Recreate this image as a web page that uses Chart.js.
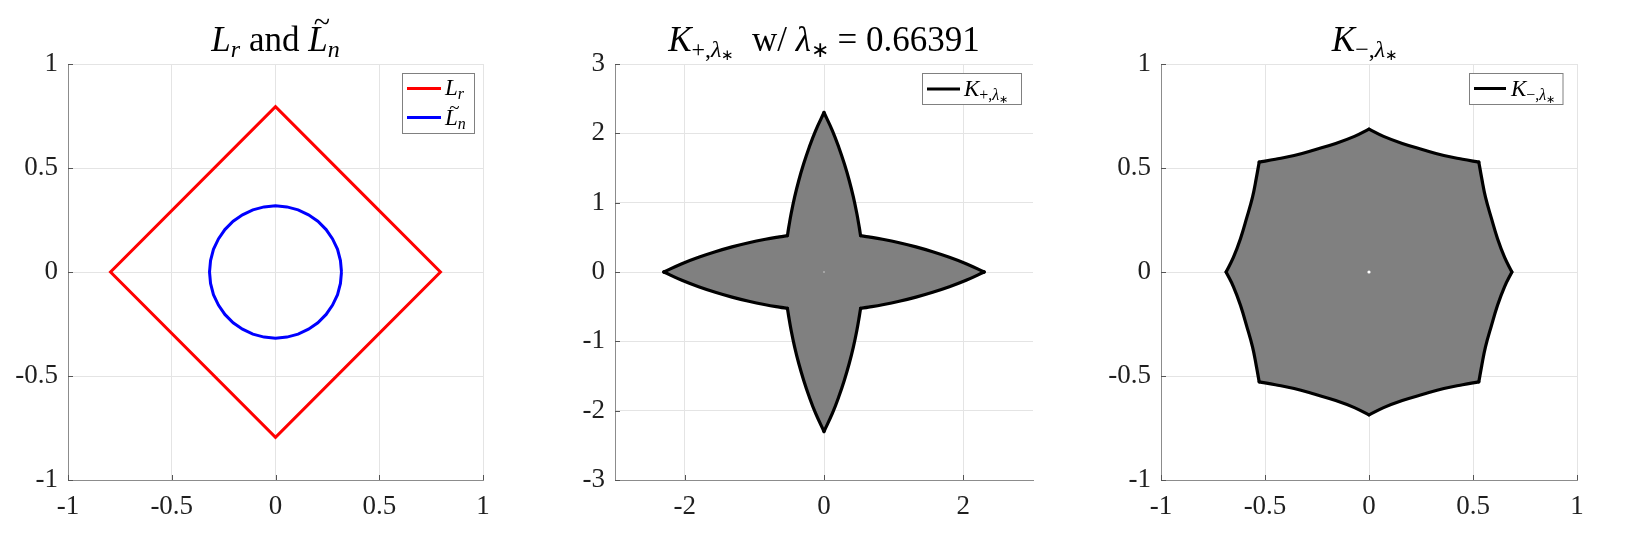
<!DOCTYPE html>
<html><head><meta charset="utf-8">
<script src="https://cdn.jsdelivr.net/npm/chart.js@4"></script>
<style>
html,body{margin:0;padding:0;background:#fff;}
body{width:1626px;height:537px;position:relative;overflow:hidden;}
canvas{position:absolute;top:0;}
</style></head><body>
<canvas id="c1" width="542" height="537" style="left:0px"></canvas>
<canvas id="c2" width="542" height="537" style="left:542px"></canvas>
<canvas id="c3" width="542" height="537" style="left:1084px"></canvas>
<script>
// ---------- data ----------
const diamondX = [0.4, 0, -0.795, 0, 0.795, 0.4];
const diamondY = [0.395, 0.795, 0, -0.795, 0, 0.395];

const circleX = [0.318,0.313,0.299,0.275,0.244,0.204,0.159,0.109,0.055,0,-0.055,-0.109,-0.159,-0.204,-0.244,-0.275,-0.299,-0.313,-0.318,-0.313,-0.299,-0.275,-0.244,-0.204,-0.159,-0.109,-0.055,0,0.055,0.109,0.159,0.204,0.244,0.275,0.299,0.313,0.318];
const circleY = [0,0.055,0.109,0.159,0.204,0.244,0.275,0.299,0.313,0.318,0.313,0.299,0.275,0.244,0.204,0.159,0.109,0.055,0,-0.055,-0.109,-0.159,-0.204,-0.244,-0.275,-0.299,-0.313,-0.318,-0.313,-0.299,-0.275,-0.244,-0.204,-0.159,-0.109,-0.055,0];

const starX = [1.32,1.08,0.84,0.64,0.525,
  0.507,0.472,0.422,0.362,0.292,0.212,0.12,0,
  -0.12,-0.212,-0.292,-0.362,-0.422,-0.472,-0.507,-0.525,
  -0.64,-0.84,-1.08,-1.32,-1.56,-1.80,-2.04,-2.30,
  -2.04,-1.80,-1.56,-1.32,-1.08,-0.84,-0.64,-0.525,
  -0.507,-0.472,-0.422,-0.362,-0.292,-0.212,-0.12,0,
  0.12,0.212,0.292,0.362,0.422,0.472,0.507,0.525,
  0.64,0.84,1.08,1.32,1.56,1.80,2.04,2.30,
  2.04,1.80,1.56,1.32];
const starY = [0.362,0.422,0.472,0.507,0.525,
  0.64,0.84,1.08,1.32,1.56,1.80,2.04,2.30,
  2.04,1.80,1.56,1.32,1.08,0.84,0.64,0.525,
  0.507,0.472,0.422,0.362,0.292,0.212,0.12,0,
  -0.12,-0.212,-0.292,-0.362,-0.422,-0.472,-0.507,-0.525,
  -0.64,-0.84,-1.08,-1.32,-1.56,-1.80,-2.04,-2.30,
  -2.04,-1.80,-1.56,-1.32,-1.08,-0.84,-0.64,-0.525,
  -0.507,-0.472,-0.422,-0.362,-0.292,-0.212,-0.12,0,
  0.12,0.212,0.292,0.362];
const starVertices = [4,12,20,28,36,44,52,60];   // indices of tips / inner corners

const minusX = [0.588,0.56,0.542,0.528, 0.45,0.36,0.26,0.16,0.07,0, -0.07,-0.16,-0.26,-0.36,-0.45,-0.528, -0.542,-0.56,-0.588,-0.618,-0.652,-0.687, -0.652,-0.618,-0.588,-0.56,-0.542,-0.528, -0.45,-0.36,-0.26,-0.16,-0.07,0, 0.07,0.16,0.26,0.36,0.45,0.528, 0.542,0.56,0.588,0.618,0.652,0.687, 0.652,0.618,0.588];
const minusY = [0.26,0.36,0.45,0.528, 0.542,0.56,0.588,0.618,0.652,0.687, 0.652,0.618,0.588,0.56,0.542,0.528, 0.45,0.36,0.26,0.16,0.07,0, -0.07,-0.16,-0.26,-0.36,-0.45,-0.528, -0.542,-0.56,-0.588,-0.618,-0.652,-0.687, -0.652,-0.618,-0.588,-0.56,-0.542,-0.528, -0.45,-0.36,-0.26,-0.16,-0.07,0, 0.07,0.16,0.26];
const minusVertices = [3,9,15,21,27,33,39,45];

const originX = [0];
const originY = [0];

const ticks1X = [-1,-0.5,0,0.5,1];
const ticks1Y = [-1,-0.5,0,0.5,1];
const ticks2X = [-2,0,2];
const ticks2Y = [-3,-2,-1,0,1,2,3];
const ticks3X = [-1,-0.5,0,0.5,1];
const ticks3Y = [-1,-0.5,0,0.5,1];

// ---------- helpers ----------
const LS = '"Liberation Serif", "Times New Roman", serif';
function F(size, italic){ return (italic ? 'italic ' : '') + size + 'px ' + LS; }
function pts(xs, ys){ return xs.map((x,i)=>({x:x, y:ys[i]})); }

// split a closed outline (last point == first point) into its edges between vertices
function edges(xs, ys, vtx){
  const n = xs.length - 1, out = [];
  for (let k = 0; k < vtx.length; k++){
    const a = vtx[k], b = vtx[(k+1) % vtx.length];
    let ex, ey;
    if (b > a){ ex = xs.slice(a, b+1); ey = ys.slice(a, b+1); }
    else { ex = xs.slice(a, n).concat(xs.slice(0, b+1)); ey = ys.slice(a, n).concat(ys.slice(0, b+1)); }
    out.push(pts(ex, ey));
  }
  return out;
}

function drawRich(ctx, segs, x, y, align){
  let w = 0;
  segs.forEach(s=>{ ctx.font = s.f; s.w = ctx.measureText(s.t).width; w += s.w; });
  let cx = align === 'center' ? x - w/2 : x;
  ctx.textAlign = 'left';
  segs.forEach(s=>{
    ctx.font = s.f;
    ctx.fillText(s.t, cx, y + (s.dy||0));
    if (s.acc){
      ctx.font = s.accF;
      ctx.textAlign = 'center';
      ctx.fillText(s.acc, cx + s.w/2 + (s.accDx||0), y + (s.dy||0) - s.accUp);
      ctx.textAlign = 'left';
    }
    cx += s.w;
  });
}

function makeScales(xmin, xmax, xt, ymin, ymax, yt){
  const tickFont = {family: LS, size: 27};
  return {
    x: {
      type: 'linear', min: xmin, max: xmax,
      afterBuildTicks: s => { s.ticks = xt.map(v=>({value:v})); },
      afterFit: s => { s.height = 57; },
      grid: {color: '#e4e4e4', lineWidth: 1, drawTicks: false},
      border: {display: true, color: '#8c8c8c', width: 1},
      ticks: {padding: 11, color: '#1f1f1f', font: tickFont, maxRotation: 0, autoSkip: false,
              callback: v => String(v)}
    },
    y: {
      type: 'linear', min: ymin, max: ymax,
      afterBuildTicks: s => { s.ticks = yt.map(v=>({value:v})); },
      afterFit: s => { s.width = 60; },
      grid: {color: '#e4e4e4', lineWidth: 1, drawTicks: false},
      border: {display: true, color: '#8c8c8c', width: 1},
      ticks: {padding: 10, color: '#1f1f1f', font: tickFont, autoSkip: false,
              callback: v => String(v)}
    }
  };
}

function overlay(cfg){
  return {
    id: 'overlay',
    afterDraw(chart){
      const ctx = chart.ctx, a = chart.chartArea, xs = chart.scales.x, ys = chart.scales.y;
      const ox = cfg.offset;
      ctx.save();
      ctx.strokeStyle = '#555'; ctx.lineWidth = 1;
      ctx.beginPath();
      cfg.xt.forEach(v=>{ const p = Math.round(xs.getPixelForValue(v)) + 0.5; ctx.moveTo(p, a.bottom); ctx.lineTo(p, a.bottom - 5); });
      cfg.yt.forEach(v=>{ const p = Math.round(ys.getPixelForValue(v)) + 0.5; ctx.moveTo(a.left, p); ctx.lineTo(a.left + 5, p); });
      ctx.stroke();
      ctx.fillStyle = '#000'; ctx.textBaseline = 'alphabetic';
      drawRich(ctx, cfg.title, (a.left + a.right)/2 + (cfg.titleDx||0), 51, 'center');
      const L = cfg.legend;
      ctx.fillStyle = '#fff';
      ctx.fillRect(L.x - ox, L.y, L.w, L.h);
      ctx.strokeStyle = '#808080'; ctx.lineWidth = 1;
      ctx.strokeRect(L.x - ox, L.y, L.w, L.h);
      L.rows.forEach(r=>{
        ctx.strokeStyle = r.color; ctx.lineWidth = 3; ctx.lineCap = 'butt';
        ctx.beginPath(); ctx.moveTo(r.x0 - ox, r.ly); ctx.lineTo(r.x1 - ox, r.ly); ctx.stroke();
        ctx.fillStyle = '#000';
        drawRich(ctx, r.segs, r.tx - ox, r.ty, 'left');
      });
      ctx.restore();
    }
  };
}

function outline(data, color, width){
  return {data: data, borderColor: color, borderWidth: width, fill: false, pointRadius: 0, tension: 0,
          borderJoinStyle: 'miter', borderCapStyle: 'butt'};
}
function filled(data){
  return {data: data, order: 3, borderWidth: 0, borderColor: 'rgba(0,0,0,0)', backgroundColor: '#808080',
          fill: 'shape', pointRadius: 0, tension: 0};
}
function curve(data){
  return {data: data, order: 2, borderColor: '#000', borderWidth: 3.2, fill: false, pointRadius: 0,
          tension: 0.4, borderCapStyle: 'round', borderJoinStyle: 'round'};
}

function baseOptions(pad, scales){
  return {
    responsive: false, animation: false,
    layout: {padding: pad},
    plugins: {legend: {display: false}, tooltip: {enabled: false}, title: {display: false}},
    scales: scales
  };
}

// ---------- chart 1 ----------
new Chart(document.getElementById('c1'), {
  type: 'line',
  data: {datasets: [
    outline(pts(diamondX, diamondY), '#ff0000', 3),
    outline(pts(circleX, circleY), '#0000ff', 3)
  ]},
  options: baseOptions({left: 8, right: 59, top: 64, bottom: 0}, makeScales(-1, 1, ticks1X, -1, 1, ticks1Y)),
  plugins: [overlay({
    offset: 0, xt: ticks1X, yt: ticks1Y,
    title: [
      {t:'L', f:F(35,true)}, {t:'r', f:F(24,true), dy:6},
      {t:' and ', f:F(35,false)},
      {t:'L', f:F(35,true), acc:'~', accF:F(30,false), accUp:19, accDx:4},
      {t:'n', f:F(24,true), dy:6}
    ],
    legend: {x: 402.5, y: 73.5, w: 72, h: 60, rows: [
      {color:'#ff0000', x0:407, x1:441, ly:88.5, tx:445, ty:95,
       segs:[{t:'L', f:F(23,true)}, {t:'r', f:F(16,true), dy:4}]},
      {color:'#0000ff', x0:407, x1:441, ly:117.5, tx:445, ty:125,
       segs:[{t:'L', f:F(23,true), acc:'~', accF:F(19,false), accUp:11, accDx:3}, {t:'n', f:F(16,true), dy:4}]}
    ]}
  })]
});

// ---------- chart 2 ----------
const starEdges = edges(starX, starY, starVertices);
new Chart(document.getElementById('c2'), {
  type: 'line',
  data: {datasets: [filled(pts(starX, starY))].concat(starEdges.map(e => curve(e))).concat([
    {data: pts(originX, originY), order: 1, showLine: false, pointRadius: 1, pointBackgroundColor: '#b0b0b0', pointBorderWidth: 0}
  ])},
  options: baseOptions({left: 13, right: 51, top: 64, bottom: 0}, makeScales(-3, 3, ticks2X, -3, 3, ticks2Y)),
  plugins: [overlay({
    offset: 542, xt: ticks2X, yt: ticks2Y,
    title: [
      {t:'K', f:F(35,true)}, {t:'+,', f:F(24,false), dy:6}, {t:'λ', f:F(24,true), dy:6}, {t:'∗', f:F(15,false), dy:9},
      {t:'  w/ ', f:F(35,false)},
      {t:'λ', f:F(35,true)}, {t:'∗', f:F(22,false), dy:6},
      {t:' = 0.66391', f:F(35,false)}
    ],
    legend: {x: 922.5, y: 73.5, w: 99, h: 31, rows: [
      {color:'#000', x0:927, x1:960, ly:89, tx:964, ty:96,
       segs:[{t:'K', f:F(23,true)}, {t:'+,', f:F(16,false), dy:4}, {t:'λ', f:F(16,true), dy:4}, {t:'∗', f:F(11,false), dy:7}]}
    ]}
  })]
});

// ---------- chart 3 ----------
const minusEdges = edges(minusX, minusY, minusVertices);
new Chart(document.getElementById('c3'), {
  type: 'line',
  data: {datasets: [filled(pts(minusX, minusY))].concat(minusEdges.map(e => curve(e))).concat([
    {data: pts(originX, originY), order: 1, showLine: false, pointRadius: 1.6, pointBackgroundColor: '#ffffff', pointBorderWidth: 0}
  ])},
  options: baseOptions({left: 17, right: 49, top: 64, bottom: 0}, makeScales(-1, 1, ticks3X, -1, 1, ticks3Y)),
  plugins: [overlay({
    offset: 1084, xt: ticks3X, yt: ticks3Y, titleDx: -4,
    title: [
      {t:'K', f:F(35,true)}, {t:'−,', f:F(24,false), dy:6}, {t:'λ', f:F(24,true), dy:6}, {t:'∗', f:F(15,false), dy:9}
    ],
    legend: {x: 1469.5, y: 73.5, w: 93.5, h: 31, rows: [
      {color:'#000', x0:1474, x1:1506, ly:88.5, tx:1511, ty:96,
       segs:[{t:'K', f:F(23,true)}, {t:'−,', f:F(16,false), dy:4}, {t:'λ', f:F(16,true), dy:4}, {t:'∗', f:F(11,false), dy:7}]}
    ]}
  })]
});
</script>
</body></html>
